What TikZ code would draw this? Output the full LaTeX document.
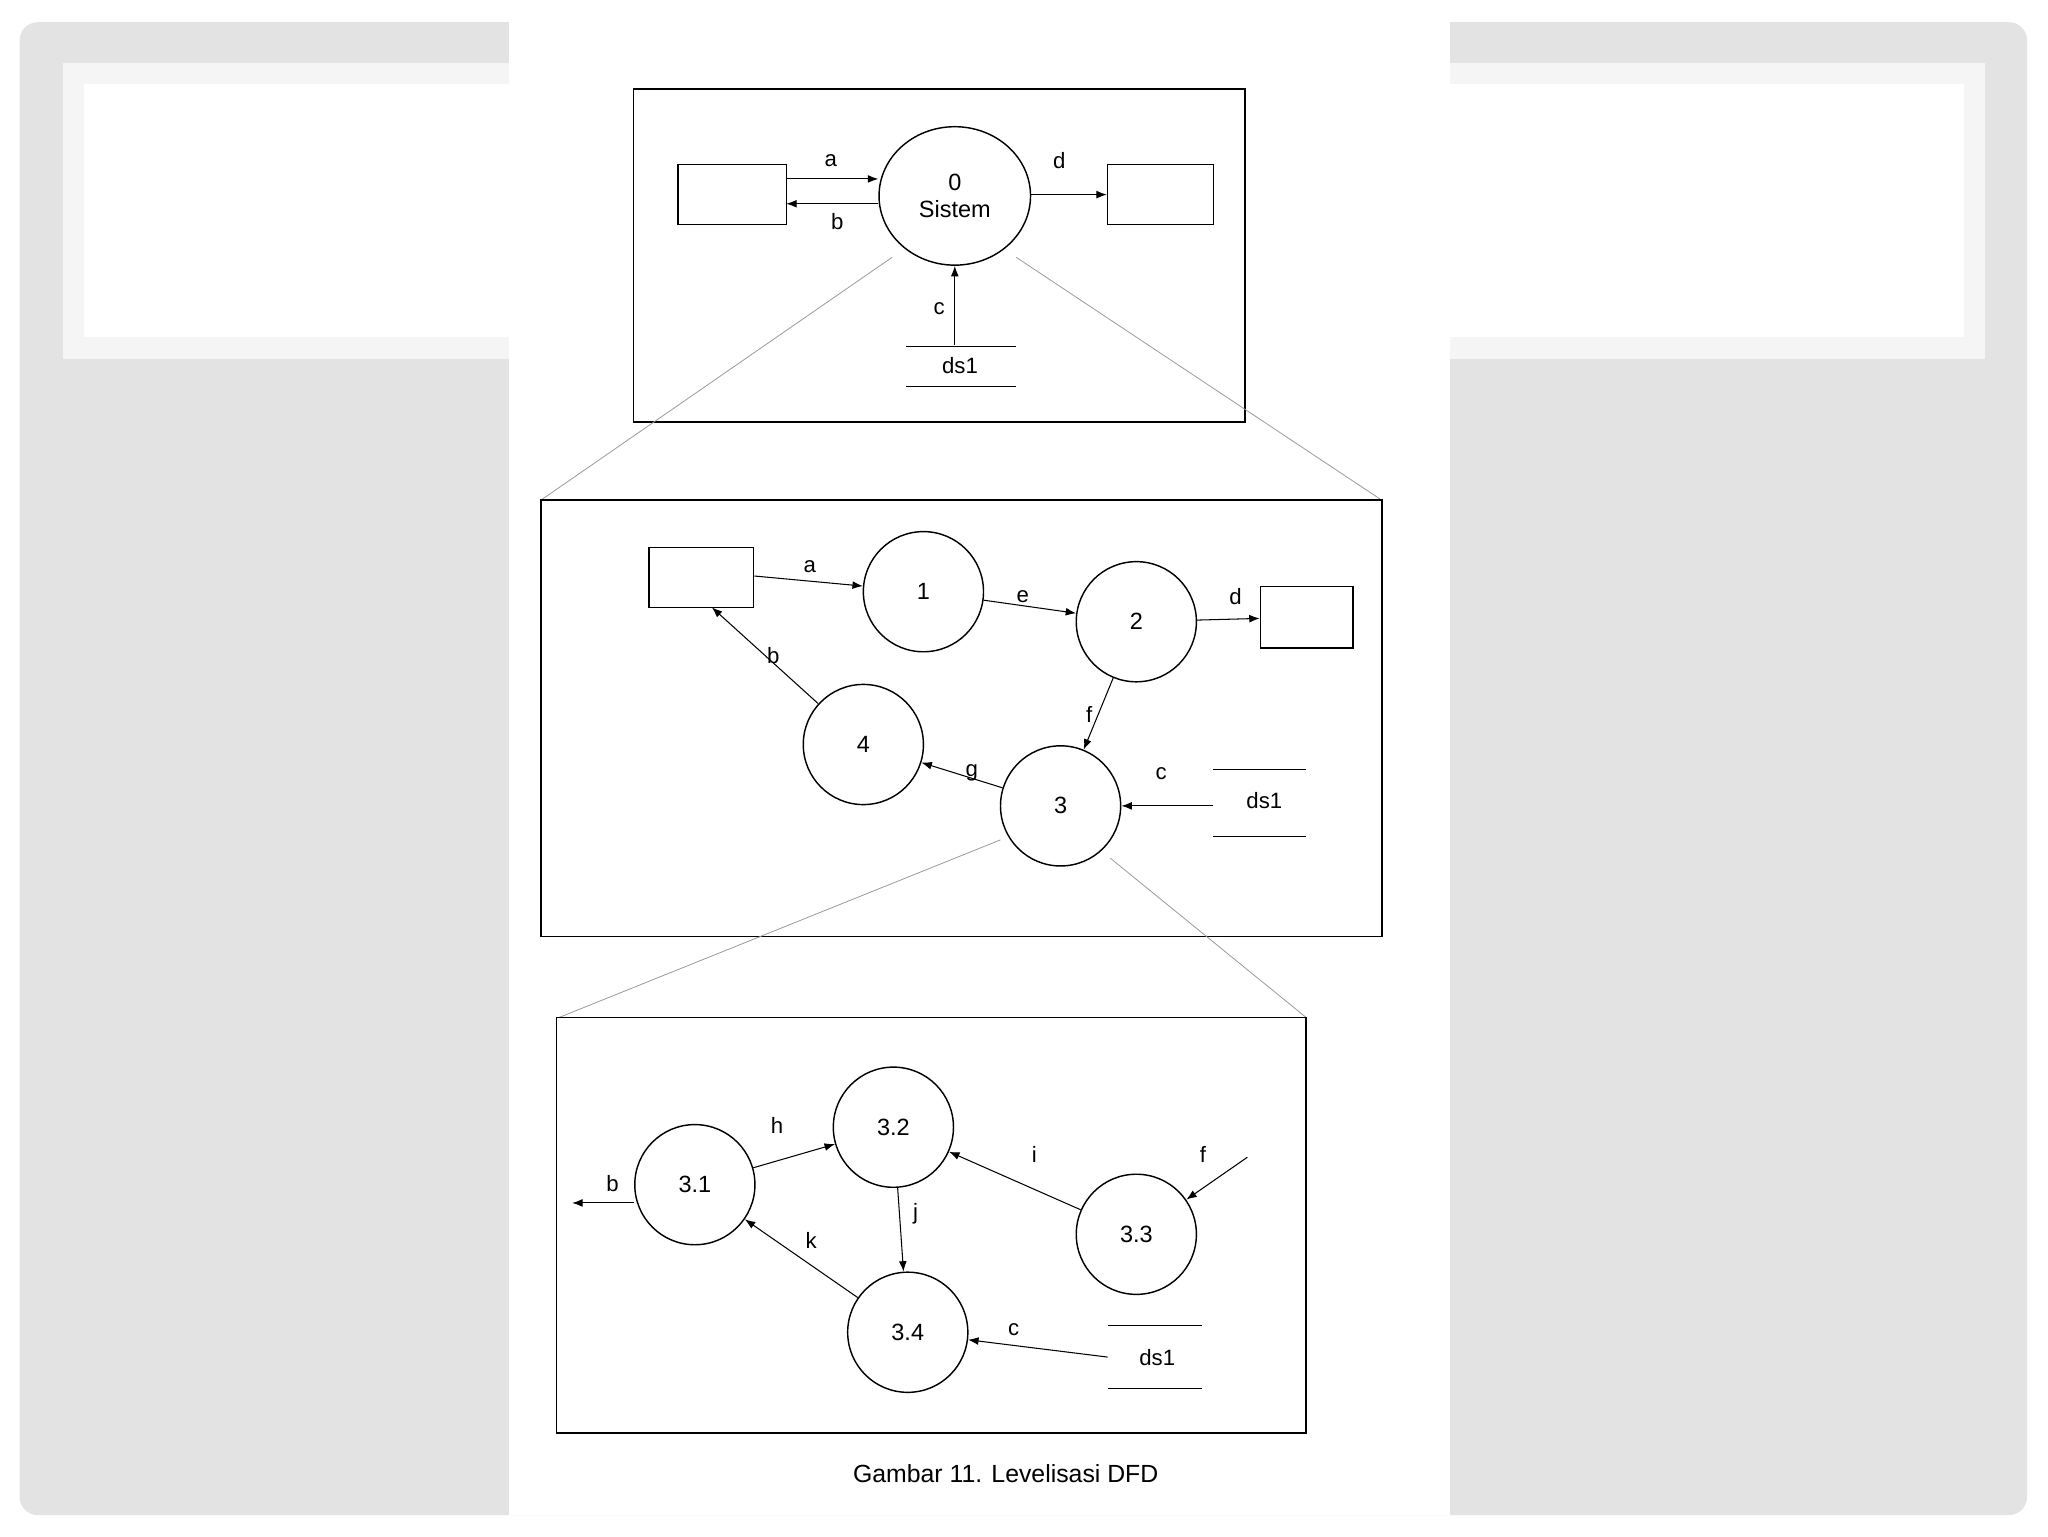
\documentclass[tikz,border=0pt]{standalone}
\usepackage{fontspec}
\setmainfont{Liberation Sans}
\usetikzlibrary{arrows.meta,shapes.geometric}
\begin{document}
\begin{tikzpicture}[x=1pt,y=-1pt,
  proc/.style={draw,circle,minimum size=92pt,inner sep=0pt,line width=1.1pt,font=\fontsize{18}{20}\selectfont},
  ext/.style={draw,rectangle,inner sep=0pt,line width=1.1pt},
  flow/.style={-{Latex[length=8pt,width=6pt]},line width=0.8pt},
  lbl/.style={font=\fontsize{17}{19}\selectfont},
  frame/.style={draw,line width=1.3pt},
  zoomln/.style={draw=gray!80,line width=0.6pt}]
\useasboundingbox (0,0) rectangle (1568,1176);
\fill[white] (0,0) rectangle (1568,1176);
\fill[rounded corners=14pt,fill=black!11] (15,17) rectangle (1552,1160);
\fill[black!4] (48,48) rectangle (1520,275);
\fill[white] (64,64) rectangle (1504,258);
\fill[white] (390,17) rectangle (1110,1160);
% top level
\draw[frame] (485,68) rectangle (953,323);
\node[ext,minimum width=83pt,minimum height=46pt] (eL) at (560.5,149) {};
\node[ext,minimum width=81pt,minimum height=46pt] (eR) at (888.5,149) {};
\node[draw,ellipse,minimum width=116pt,minimum height=106pt,line width=1.1pt,align=center,font=\fontsize{18}{20}\selectfont] (p0) at (731,150) {0\\Sistem};
\coordinate (ds0) at (731,264);
\draw (694,265) -- (778,265) (694,296) -- (778,296);
\node[lbl] (ds0t) at (735,280) {ds1};
\draw[flow] (602,137) -- (p0.west |- 0,137);
\draw[flow] (p0.west |- 0,156) -- (602,156);
\draw[flow] (p0.east |- 0,149) -- (eR.west |- 0,149);
\draw[flow] (ds0) -- (p0.south);
\node[lbl] at (636,123) {a};
\node[lbl] at (641,170) {b};
\node[lbl] at (811,123) {d};
\node[lbl] at (719,236) {c};
\draw[zoomln] (683,197) -- (414,383);
\draw[zoomln] (778,197) -- (1058,383);
% middle level
\draw[frame] (414,383) rectangle (1058,717);
\node[ext,minimum width=80pt,minimum height=46pt] (m0) at (537,442) {};
\node[ext,minimum width=71pt,minimum height=47pt] (m5) at (1000.5,472.5) {};
\node[proc] (p1) at (707,453) {1};
\node[proc] (p2) at (870,476) {2};
\node[proc] (p4) at (661,570) {4};
\node[proc] (p3) at (812,617) {3};
\draw (929,589) -- (1000,589) (929,640) -- (1000,640);
\node[lbl] (ds1t) at (968,613) {ds1};
\coordinate (dsm) at (929,617);
\draw[flow] (m0.east |- 0,441) -- (p1);
\draw[flow] (p1) -- (p2);
\draw[flow] (p2) -- (m5);
\draw[flow] (p2) -- (p3);
\draw[flow] (p3) -- (p4);
\draw[flow] (p4) -- (545,465);
\draw[flow] (dsm) -- (p3);
\node[lbl] at (620,434) {a};
\node[lbl] at (783,457) {e};
\node[lbl] at (946,457) {d};
\node[lbl] at (834,547) {f};
\node[lbl] at (744,592) {g};
\node[lbl] at (592,502) {b};
\node[lbl] at (889,592) {c};
\draw[zoomln] (766,643) -- (428,779);
\draw[zoomln] (850,657) -- (1000,779);
% bottom level
\draw[frame] (426,779) rectangle (1000,1097);
\node[proc] (q1) at (532,907) {3.1};
\node[proc] (q2) at (684,863) {3.2};
\node[proc] (q3) at (870,945) {3.3};
\node[proc] (q4) at (695,1020) {3.4};
\coordinate (bout) at (438,921);
\coordinate (fin) at (955,886);
\coordinate (dsb) at (848,1039);
\draw (848,1015) -- (920,1015) (848,1063) -- (920,1063);
\node[lbl] (ds2t) at (886,1039) {ds1};
\draw[flow] (q1.west |- 0,921) -- (bout);
\draw[flow] (q1) -- (q2);
\draw[flow] (q2) -- (q4);
\draw[flow] (q3) -- (q2);
\draw[flow] (q4) -- (q1);
\draw[flow] (fin) -- (q3);
\draw[flow] (dsb) -- (q4);
\node[lbl] at (469,906) {b};
\node[lbl] at (595,862) {h};
\node[lbl] at (701,929) {j};
\node[lbl] at (792,884) {i};
\node[lbl] at (621,950) {k};
\node[lbl] at (921,884) {f};
\node[lbl] at (776,1018) {c};
\node[font=\fontsize{19}{21}\selectfont] (cap) at (770,1128) {Gambar 11. Levelisasi DFD};
\end{tikzpicture}
\end{document}
